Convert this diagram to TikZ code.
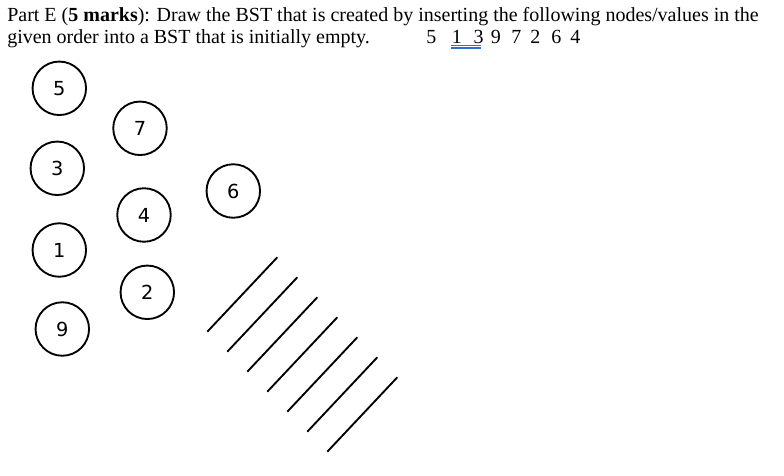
\documentclass[tikz,border=0pt]{standalone}
\usepackage{fontspec}
\setmainfont{Liberation Serif}
\newfontfamily\circfont{DejaVu Sans}
\definecolor{ulblue}{RGB}{47,110,214}
\begin{document}
\begin{tikzpicture}[x=0.75pt,y=-0.75pt,
  bstnode/.style={circle,draw,line width=1.4pt,minimum size=53.5*0.75pt,inner sep=0pt,font=\circfont\fontsize{14.5pt}{16pt}\selectfont},
  hatch/.style={line width=1.4pt},
  txt/.style={anchor=base west,inner sep=0pt,font=\fontsize{15pt}{18pt}\selectfont},
  ul/.style={ulblue,line width=0.9pt}]
\useasboundingbox (0,0) rectangle (784,475);
\node[txt] (l1) at (7,21) {Part E (\textbf{5 marks}): Draw the BST that is created by inserting the following nodes/values in the};
\node[txt] (l2) at (7,43) {given order into a BST that is initially empty.};
\foreach \d/\x [count=\k] in {5/426,1/451.7,3/473.3,9/490.7,7/511,2/530,6/551,4/570} {
  \node[txt] (s\k) at (\x,43.5) {\d};
}
\draw[ul] (451,45.8) -- (481,45.8);
\draw[ul] (451,47.9) -- (481,47.9);
\node[bstnode] (n5) at (59.3,88.3) {5};
\node[bstnode] (n7) at (140,128.3) {7};
\node[bstnode] (n3) at (57.3,168.3) {3};
\node[bstnode] (n6) at (233.3,191) {6};
\node[bstnode] (n4) at (144,215) {4};
\node[bstnode] (n1) at (59.3,250) {1};
\node[bstnode] (n2) at (147.3,292.3) {2};
\node[bstnode] (n9) at (62.3,329) {9};
\foreach \i in {0,...,6} {
  \draw[hatch] ({207.3+20*\i},{331.7+20*\i}) -- ({277.3+20*\i},{257.3+20*\i});
}
\end{tikzpicture}
\end{document}
